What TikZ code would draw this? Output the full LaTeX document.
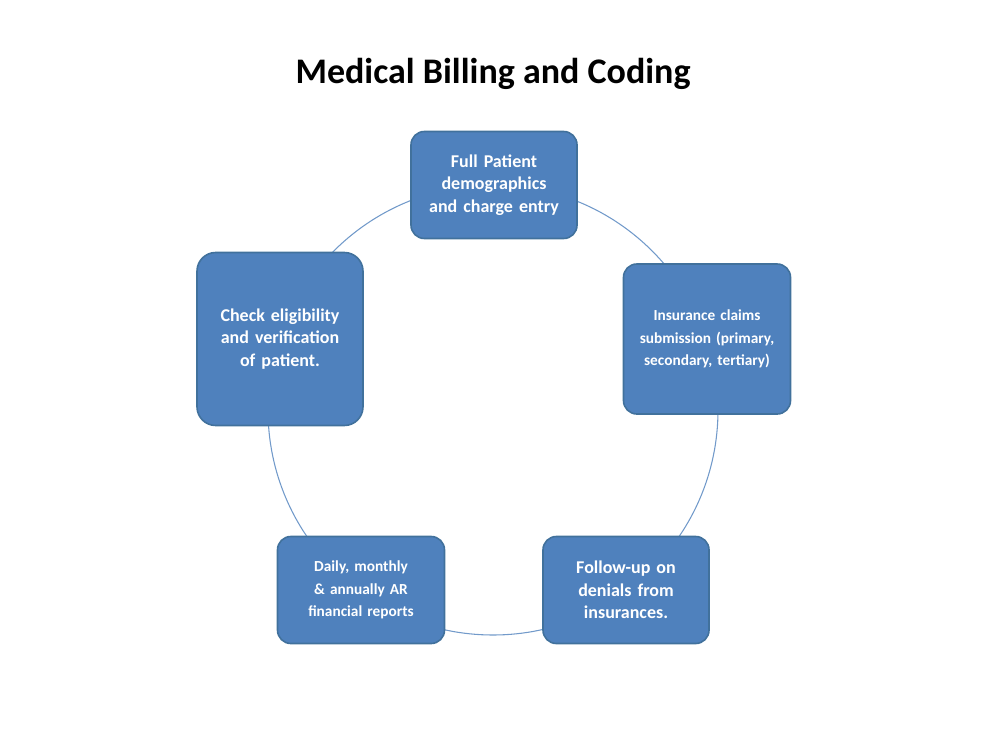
\documentclass[tikz,border=0pt]{standalone}
\usepackage{fontspec}
\setmainfont{Carlito}
\definecolor{fillb}{HTML}{4F81BD}
\definecolor{edgeb}{HTML}{41719C}
\begin{document}
\begin{tikzpicture}[x=0.75pt,y=-0.75pt,
  box/.style={draw=edgeb,line width=1.2pt,fill=fillb,rounded corners=10pt,text=white,align=center,font=\bfseries,inner sep=2pt},
  big/.style={font=\bfseries\fontsize{13.5}{17}\selectfont},
  small/.style={font=\bfseries\fontsize{11.5}{17}\selectfont}]
\useasboundingbox (0,0) rectangle (1000,750);
\node[font=\bfseries\fontsize{27}{32}\selectfont] (title) at (493,74) {Medical Billing and Coding};
\draw[fillb!80,line width=0.8pt] (493,410) circle[radius=225*0.75pt];
\node[box,big,minimum width=166*0.75pt,minimum height=107*0.75pt,text width=150*0.75pt] (a) at (494,185) {Full Patient demographics and charge entry};
\node[box,small,minimum width=167*0.75pt,minimum height=150*0.75pt,text width=150*0.75pt] (b) at (707,339) {Insurance claims submission (primary, secondary, tertiary)};
\node[box,big,minimum width=166*0.75pt,minimum height=107*0.75pt,text width=150*0.75pt] (c) at (626,590) {Follow-up on denials from insurances.};
\node[box,small,minimum width=167*0.75pt,minimum height=107*0.75pt,text width=155*0.75pt] (d) at (361,590) {Daily, monthly \& annually AR financial reports};
\node[box,big,minimum width=166*0.75pt,minimum height=173*0.75pt,text width=130*0.75pt,rounded corners=14pt] (e) at (280,339) {Check eligibility and verification of patient.};
\end{tikzpicture}
\end{document}
